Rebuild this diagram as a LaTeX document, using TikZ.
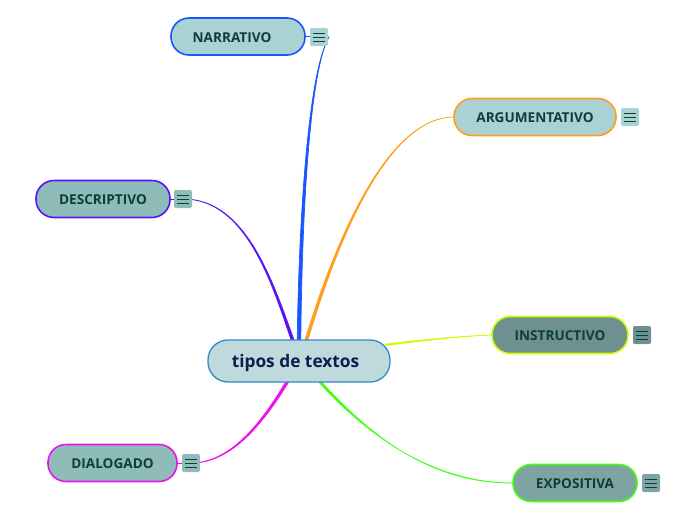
\documentclass[tikz,border=0pt]{standalone}
\usepackage{fontspec}
\setmainfont{Open Sans}
\usetikzlibrary{backgrounds,calc}
\definecolor{txt}{HTML}{0D3F3A}
\definecolor{ctxt}{HTML}{0B1F4F}
\definecolor{cnar}{HTML}{1A56FF}
\definecolor{carg}{HTML}{FF9E1B}
\definecolor{cdes}{HTML}{5A14F0}
\definecolor{cins}{HTML}{CCFF00}
\definecolor{cexp}{HTML}{44FF11}
\definecolor{cdia}{HTML}{EE11EE}
\definecolor{croot}{HTML}{3388CC}
\definecolor{froot}{HTML}{BFDADD}
\definecolor{fa}{HTML}{AAD2D2}
\definecolor{fb}{HTML}{8FBBB9}
\definecolor{fc}{HTML}{6F9090}
\definecolor{fd}{HTML}{7DA3A3}
\tikzset{
 topic/.style 2 args={draw=#1,fill=#2,line width=1.6pt,rounded corners=18pt,minimum height=37pt,inner sep=0pt,
   text=txt,text height=11pt,text depth=0pt,font=\fontsize{13.6}{15}\selectfont\bfseries},
 rootbox/.style={draw=croot,fill=froot,line width=1.3pt,rounded corners=20pt,minimum height=42pt,inner sep=0pt,
   text=ctxt,text height=12pt,text depth=0pt,font=\fontsize{17.3}{19}\selectfont\bfseries},
 iconbox/.style={fill=#1,rounded corners=2pt,minimum size=18pt,inner sep=0pt},
 barline/.style={draw=txt,line width=0.9pt},
 conn/.style={fill=#1,draw=#1,line width=0.7pt},
 linkline/.style={draw=#1,line width=0.8pt}
}
\newcommand{\menubars}[1]{\draw[barline] ($(#1)+(-6,-4)$) -- ($(#1)+(6,-4)$) ($(#1)+(-6,0)$) -- ($(#1)+(6,0)$) ($(#1)+(-6,4)$) -- ($(#1)+(6,4)$);}
\begin{document}
\begin{tikzpicture}[x=1pt,y=-1pt]
\useasboundingbox (0,0) rectangle (696,520);
\node[rootbox,minimum width=182pt] (c) at (299,361) {tipos de textos\kern7pt\relax};
\node[topic={cnar}{fa},minimum width=134pt] (nar) at (238,36.5) {NARRATIVO\kern12pt\relax};
\node[topic={carg}{fa},minimum width=162pt] (arg) at (535,117) {ARGUMENTATIVO};
\node[topic={cdes}{fb},minimum width=134pt] (des) at (103,199) {DESCRIPTIVO};
\node[topic={cins}{fc},minimum width=136pt] (ins) at (560,335) {INSTRUCTIVO};
\node[topic={cexp}{fd},minimum width=124pt] (exq) at (575,483) {EXPOSITIVA};
\node[topic={cdia}{fb},minimum width=129pt] (dia) at (112.5,463) {DIALOGADO};
\node[iconbox=fa] (inar) at (319,37) {};
\node[iconbox=fa] (iarg) at (630,117) {};
\node[iconbox=fb] (ides) at (183,199) {};
\node[iconbox=fc] (iins) at (642,335) {};
\node[iconbox=fd] (iexq) at (651,483) {};
\node[iconbox=fb] (idia) at (191,463) {};
\menubars{inar}\menubars{iarg}\menubars{ides}\menubars{iins}\menubars{iexq}\menubars{idia}
\coordinate (enar) at (329,37);
\begin{pgfonlayer}{background}
\draw[linkline=cnar] (nar.east) -- (enar);
\draw[linkline=cdes] (des.east) -- (ides.center);
\draw[linkline=cdia] (dia.east) -- (idia.center);
\fill[conn=cnar] ($(c.north)+(-1.8,2)$) .. controls (299,210) and (309,70) .. (enar) .. controls (310,70) and (302,210) .. ($(c.north)+(1.8,2)$) -- cycle;
\fill[conn=cdes] ($(c.north)+(-7.5,2)$) .. controls (271,280) and (245,199) .. (ides.center) .. controls (245.5,198.5) and (272.5,280) .. ($(c.north)+(-4.5,2)$) -- cycle;
\fill[conn=carg] ($(c.north)+(5.5,2)$) .. controls (340,225) and (391,118) .. (arg.west) .. controls (391.5,118) and (342,225) .. ($(c.north)+(8.5,2)$) -- cycle;
\fill[conn=cins] ($(c.east)+(-5,-17)$) .. controls (420,340) and (460,336) .. (ins.west) .. controls (460,336.3) and (420,341) .. ($(c.east)+(-4,-15.5)$) -- cycle;
\fill[conn=cexp] ($(c.south)+(18.5,-2)$) .. controls (365,433) and (430,482.5) .. (exq.west) .. controls (430,483.5) and (369,435) .. ($(c.south)+(21.5,-2)$) -- cycle;
\fill[conn=cdia] ($(c.south)+(-12.5,-2)$) .. controls (260,425) and (230,462.5) .. (idia.center) .. controls (230,463.5) and (262,426) .. ($(c.south)+(-9.5,-2)$) -- cycle;
\end{pgfonlayer}
\end{tikzpicture}
\end{document}
